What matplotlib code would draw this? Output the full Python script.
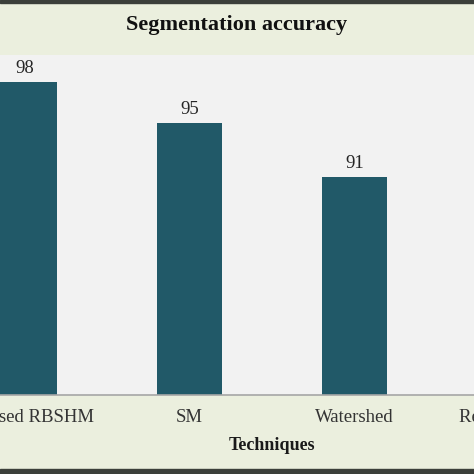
import numpy as np
import matplotlib
matplotlib.use("Agg")
import matplotlib.pyplot as plt
import matplotlib.transforms as mtransforms

# data
techniques = ["Proposed RBSHM", "SM", "Watershed", "Region growing"]
accuracy = [98, 95, 91, 89]

bar_color = "#215968"
plot_bg = "#F2F2F2"
outer_bg = "#EBEFDE"

plt.rcParams['font.family'] = ['Liberation Serif', 'DejaVu Serif']

fig = plt.figure(figsize=(4.74, 4.74), dpi=100, facecolor=outer_bg)
ax = fig.add_axes([0, 79/474, 1, (395-55)/474])
ax.set_facecolor(plot_bg)

x = np.arange(len(techniques))
bars = ax.bar(x, accuracy, width=0.394, color=bar_color, zorder=2)
ax.set_ylim(75, 100)
xmin, xmax = -24.5/165, (474-24.5)/165
ax.set_xlim(xmin, xmax)

# value labels only where the bar is in view
for xi, v in zip(x, accuracy):
    if xi < xmax:
        ax.text(xi, v + 0.4, str(v), ha='center', va='bottom', fontsize=13.5, color='#262626')

# category labels, including the one that runs off the right edge
ax.set_xticks([])
trans = mtransforms.blended_transform_factory(ax.transData, ax.transAxes)
for xi, name in zip(x, techniques):
    ax.text(xi, -0.04, name, transform=trans, ha='center', va='top',
            fontsize=13.5, color='#333333', clip_on=False)

ax.text(1.5, -0.125, "Techniques", transform=trans, ha='center', va='top',
        fontsize=13, fontweight='bold', color='#1a1a1a', clip_on=False)

ax.set_yticks([])
for s in ['top', 'left', 'right']:
    ax.spines[s].set_visible(False)
ax.spines['bottom'].set_color('#A6A6A6')
ax.spines['bottom'].set_linewidth(1.2)

fig.text(0.5, 1 - 25/474, "Segmentation accuracy", ha='center', va='center',
         fontsize=16, fontweight='bold', color='#111111')

# dark frame at top and bottom edges
fig.add_artist(plt.Rectangle((0, 1 - 3/474), 1, 3/474, transform=fig.transFigure,
                             color='#3B3F3A', zorder=5))
fig.add_artist(plt.Rectangle((0, 0), 1, 5/474, transform=fig.transFigure,
                             color='#3B3F3A', zorder=5))

fig.savefig("out.png", dpi=100, facecolor=outer_bg)
